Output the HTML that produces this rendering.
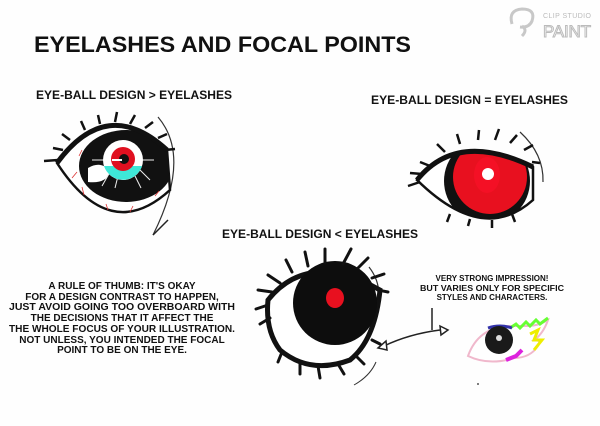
<!DOCTYPE html>
<html><head><meta charset="utf-8"><style>
html,body{margin:0;padding:0;background:#fefefe}
svg{display:block}
text{font-family:"Liberation Sans",sans-serif;font-weight:bold;fill:#111}
</style></head><body>
<svg width="600" height="426" viewBox="0 0 600 426" xmlns="http://www.w3.org/2000/svg">
<rect width="600" height="426" fill="#fefefe"/>
<!-- logo -->
<g fill="none" stroke="#c8c8c8" stroke-width="3">
<path d="M512 24 q-4 -14 10 -15 q14 0 10 12 q-3 7 -12 6 M522 26 q6 4 0 10"/>
</g>
<text x="543" y="18" font-size="7" style="fill:#bbb;font-weight:normal" textLength="48">CLIP STUDIO</text>
<text x="543" y="37" font-size="17" style="fill:#fff;stroke:#bbb;stroke-width:1;font-weight:normal" textLength="48">PAINT</text>
<!-- title -->
<text x="34" y="52" font-size="22" textLength="377" lengthAdjust="spacingAndGlyphs">EYELASHES AND FOCAL POINTS</text>
<text x="36" y="99" font-size="12" textLength="196" lengthAdjust="spacingAndGlyphs">EYE-BALL DESIGN &gt; EYELASHES</text>
<text x="371" y="104" font-size="12" textLength="197" lengthAdjust="spacingAndGlyphs">EYE-BALL DESIGN = EYELASHES</text>
<text x="222" y="238" font-size="12" textLength="196" lengthAdjust="spacingAndGlyphs">EYE-BALL DESIGN &lt; EYELASHES</text>
<g font-size="10" text-anchor="middle">
<text x="122" y="289">A RULE OF THUMB: IT'S OKAY</text>
<text x="122" y="300">FOR A DESIGN CONTRAST TO HAPPEN,</text>
<text x="122" y="310" textLength="226" lengthAdjust="spacingAndGlyphs">JUST AVOID GOING TOO OVERBOARD WITH</text>
<text x="122" y="321">THE DECISIONS THAT IT AFFECT THE</text>
<text x="122" y="332" textLength="226" lengthAdjust="spacingAndGlyphs">THE WHOLE FOCUS OF YOUR ILLUSTRATION.</text>
<text x="122" y="343">NOT UNLESS, YOU INTENDED THE FOCAL</text>
<text x="122" y="353">POINT TO BE ON THE EYE.</text>
</g>
<g font-size="8" text-anchor="middle" style="font-weight:normal">
<text x="492" y="281">VERY STRONG IMPRESSION!</text>
<text x="492" y="291" textLength="144" lengthAdjust="spacingAndGlyphs">BUT VARIES ONLY FOR SPECIFIC</text>
<text x="492" y="300">STYLES AND CHARACTERS.</text>
</g>
<!-- Eye 1 -->
<g>
<path d="M158 117 q34 40 -5 118" fill="none" stroke="#333" stroke-width="1.2"/>
<path d="M57 163 q50 -68 110 -13 l3 40 q-60 55 -113 -27z" fill="#fff" stroke="#111" stroke-width="2.5"/>
<clipPath id="c1"><path d="M57 163 q50 -68 110 -13 l3 40 q-60 55 -113 -27z"/></clipPath>
<g clip-path="url(#c1)">
<ellipse cx="126" cy="166" rx="47" ry="36" fill="#111"/>
<path d="M88 168 q14 -8 22 4 q-4 12 -22 10z" fill="#fff"/>
</g>
<g stroke="#eee" stroke-width="1"><path d="M110 172 l-8 14 M118 176 l-3 12 M135 176 l6 12 M140 170 l10 10 M142 160 l12 0 M104 160 l-12 0"/></g>
<circle cx="123" cy="160" r="20" fill="#fff"/>
<path d="M104 166 a20 20 0 0 0 38 0z" fill="#3ee8d8"/>
<circle cx="123" cy="159" r="12" fill="#e01020"/>
<circle cx="124" cy="159" r="5" fill="#111"/>
<path d="M112 160 h10" stroke="#fff" stroke-width="2"/>
<path d="M57 163 q50 -68 110 -13" fill="none" stroke="#111" stroke-width="5"/>
<g stroke="#111" stroke-width="2.5"><path d="M70 140 l-8 -6 M85 130 l-4 -9 M100 124 l-2 -9 M115 122 l2 -10 M130 124 l5 -9 M145 128 l8 -6 M158 138 l9 -4 M165 150 l10 -1 M63 150 l-10 -2 M58 160 l-14 1"/></g>
<g stroke="#d33" stroke-width=".8" fill="none"><path d="M82 150 l-3 6 M72 178 l5 -6 M84 195 l-2 -8 M108 210 l-2 -6 M130 212 l3 -6 M155 196 l4 -5"/></g>
</g>
<!-- Eye 2 -->
<g>
<path d="M520 132 q24 22 23 50" fill="none" stroke="#333" stroke-width="1.2"/>
<path d="M417 180 q40 -50 116 -13 v33 q-50 45 -116 -20z" fill="#fff" stroke="#111" stroke-width="2.5"/>
<clipPath id="c2"><path d="M417 180 q40 -50 116 -13 v33 q-50 45 -116 -20z"/></clipPath>
<g clip-path="url(#c2)">
<circle cx="487" cy="181" r="43" fill="#111"/>
<circle cx="490" cy="177" r="37" fill="#e8101f"/>
<ellipse cx="487" cy="175" rx="13" ry="18" fill="#f41025"/>
</g>
<circle cx="488" cy="174" r="6" fill="#fff"/>
<path d="M417 180 q40 -50 116 -13" fill="none" stroke="#111" stroke-width="5"/>
<g stroke="#111" stroke-width="2.5"><path d="M430 166 l-10 -4 M445 152 l-8 -8 M460 144 l-3 -10 M478 140 l1 -10 M495 140 l4 -11 M510 143 l7 -8 M524 150 l9 -5 M532 162 l8 1 M422 174 l-12 -1 M420 182 l-12 4 M450 214 l-3 8 M470 219 l-2 7 M492 220 l0 8 M512 214 l3 8"/></g>
</g>
<!-- Eye 3 -->
<g>
<path d="M369 267 q14 18 8 40" fill="none" stroke="#333" stroke-width="1.2"/>
<path d="M268 300 q40 -50 112 -10 q-5 50 -30 70 q-40 15 -70 -10 q-15 -20 -12 -50z" fill="#fff" stroke="#111" stroke-width="5"/>
<circle cx="335" cy="303" r="42" fill="#0d0d0d"/>
<ellipse cx="335" cy="298" rx="9" ry="10" fill="#e8101f"/>
<g stroke="#111" stroke-width="3" stroke-linecap="round"><path d="M280 283 l-12 -8 M292 272 l-6 -12 M308 266 l-3 -14 M325 263 l0 -14 M343 264 l8 -15 M358 268 l10 -10 M372 278 l12 -4 M378 290 l10 2 M272 292 l-14 -2 M268 305 l-12 4 M270 318 l-10 6 M282 352 l-4 10 M300 362 l0 12 M318 366 l2 12 M338 364 l6 10 M356 356 l8 8 M372 340 l8 4"/></g>
<path d="M376 362 q-6 14 -22 23" fill="none" stroke="#333" stroke-width="1"/>
</g>
<!-- arrow -->
<g fill="none" stroke="#222" stroke-width="1.5">
<path d="M384 346 q25 -12 56 -16"/>
<path d="M432 308 v22"/>
<path d="M378 348 l8 -7 l1 9z" fill="#fff"/>
<path d="M440 326 l8 4 l-7 5z" fill="#fff"/>
<path d="M168 220 l-15 15"/>
</g>
<!-- small eye -->
<g>
<path d="M468 356 q10 -28 40 -30 l20 0 q10 0 20 -6 q-5 14 -14 20 q8 0 4 6 q-8 12 -24 12 q-25 8 -46 -2z" fill="#fff" stroke="#f0b8cc" stroke-width="2"/>
<path d="M510 328 l6 -4 l4 4 l6 -6 l4 4 l6 -6 l4 4 l8 -6" fill="none" stroke="#6f3" stroke-width="3"/>
<path d="M530 334 l8 -4 l-4 10 l8 0 l-8 10" fill="none" stroke="#ee0" stroke-width="3"/>
<path d="M506 360 l10 -4 l6 -6" fill="none" stroke="#d2d" stroke-width="4"/>
<path d="M488 328 q12 -4 24 0" fill="none" stroke="#33a" stroke-width="3"/>
<circle cx="499" cy="340" r="14" fill="#1a1a1a"/>
<circle cx="499" cy="338" r="3" fill="#ddd"/>
<circle cx="478" cy="384" r="1" fill="#555"/>
</g>
</svg>
</body></html>
